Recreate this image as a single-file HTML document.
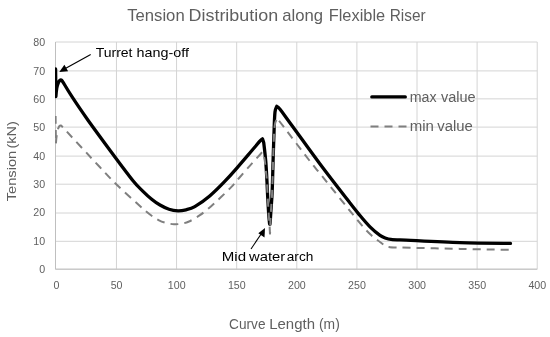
<!DOCTYPE html>
<html><head><meta charset="utf-8"><title>Tension Distribution along Flexible Riser</title>
<style>
html,body{margin:0;padding:0;background:#fff;}
body{width:550px;height:337px;overflow:hidden;font-family:"Liberation Sans",sans-serif;}
svg{display:block;}
svg text{font-family:"Liberation Sans",sans-serif;}
</style></head><body>
<svg width="550" height="337" viewBox="0 0 550 337">
<rect width="550" height="337" fill="#fff"/>
<defs><clipPath id="pa"><rect x="55.0" y="30" width="490" height="245"/></clipPath></defs>
<g stroke="#d4d4d4" stroke-width="1" fill="none"><line x1="55.50" y1="42.0" x2="55.50" y2="269.2"/><line x1="116.46" y1="42.0" x2="116.46" y2="269.2"/><line x1="176.57" y1="42.0" x2="176.57" y2="269.2"/><line x1="236.68" y1="42.0" x2="236.68" y2="269.2"/><line x1="296.79" y1="42.0" x2="296.79" y2="269.2"/><line x1="356.90" y1="42.0" x2="356.90" y2="269.2"/><line x1="417.01" y1="42.0" x2="417.01" y2="269.2"/><line x1="477.12" y1="42.0" x2="477.12" y2="269.2"/><line x1="537.23" y1="42.0" x2="537.23" y2="269.2"/><line x1="55.5" y1="269.20" x2="537.2" y2="269.20"/><line x1="55.5" y1="241.30" x2="537.2" y2="241.30"/><line x1="55.5" y1="213.00" x2="537.2" y2="213.00"/><line x1="55.5" y1="184.20" x2="537.2" y2="184.20"/><line x1="55.5" y1="156.10" x2="537.2" y2="156.10"/><line x1="55.5" y1="127.10" x2="537.2" y2="127.10"/><line x1="55.5" y1="98.85" x2="537.2" y2="98.85"/><line x1="55.5" y1="70.90" x2="537.2" y2="70.90"/><line x1="55.5" y1="42.00" x2="537.2" y2="42.00"/></g>
<g stroke="#bfbfbf" stroke-width="1" fill="none"><line x1="55.5" y1="42.0" x2="55.5" y2="269.2"/><line x1="55.5" y1="269.2" x2="537.23" y2="269.2"/></g>
<g font-size="16.2" fill="#5f5f5f"><text x="127.19" y="21.0" textLength="57.48" lengthAdjust="spacingAndGlyphs">Tension</text><text x="188.56" y="21.0" textLength="89.58" lengthAdjust="spacingAndGlyphs">Distribution</text><text x="282.28" y="21.0" textLength="40.79" lengthAdjust="spacingAndGlyphs">along</text><text x="328.69" y="21.0" textLength="56.45" lengthAdjust="spacingAndGlyphs">Flexible</text><text x="389.76" y="21.0" textLength="35.92" lengthAdjust="spacingAndGlyphs">Riser</text></g>
<g font-size="11" fill="#5f5f5f"><text x="45.2" y="272.8" text-anchor="end" textLength="5.93" lengthAdjust="spacingAndGlyphs">0</text><text x="45.2" y="244.5" text-anchor="end" textLength="11.86" lengthAdjust="spacingAndGlyphs">10</text><text x="45.2" y="216.2" text-anchor="end" textLength="11.86" lengthAdjust="spacingAndGlyphs">20</text><text x="45.2" y="187.9" text-anchor="end" textLength="11.86" lengthAdjust="spacingAndGlyphs">30</text><text x="45.2" y="159.6" text-anchor="end" textLength="11.86" lengthAdjust="spacingAndGlyphs">40</text><text x="45.2" y="131.3" text-anchor="end" textLength="11.86" lengthAdjust="spacingAndGlyphs">50</text><text x="45.2" y="102.9" text-anchor="end" textLength="11.86" lengthAdjust="spacingAndGlyphs">60</text><text x="45.2" y="74.6" text-anchor="end" textLength="11.86" lengthAdjust="spacingAndGlyphs">70</text><text x="45.2" y="46.3" text-anchor="end" textLength="11.86" lengthAdjust="spacingAndGlyphs">80</text><text x="56.5" y="289" text-anchor="middle" textLength="5.93" lengthAdjust="spacingAndGlyphs">0</text><text x="116.6" y="289" text-anchor="middle" textLength="11.86" lengthAdjust="spacingAndGlyphs">50</text><text x="176.7" y="289" text-anchor="middle" textLength="17.79" lengthAdjust="spacingAndGlyphs">100</text><text x="236.8" y="289" text-anchor="middle" textLength="17.79" lengthAdjust="spacingAndGlyphs">150</text><text x="296.9" y="289" text-anchor="middle" textLength="17.79" lengthAdjust="spacingAndGlyphs">200</text><text x="357.0" y="289" text-anchor="middle" textLength="17.79" lengthAdjust="spacingAndGlyphs">250</text><text x="417.1" y="289" text-anchor="middle" textLength="17.79" lengthAdjust="spacingAndGlyphs">300</text><text x="477.2" y="289" text-anchor="middle" textLength="17.79" lengthAdjust="spacingAndGlyphs">350</text><text x="537.3" y="289" text-anchor="middle" textLength="17.79" lengthAdjust="spacingAndGlyphs">400</text></g>
<g transform="translate(15.6,201) rotate(-90)" font-size="13.2" fill="#5f5f5f"><text x="-0.33" y="0.0" textLength="50.53" lengthAdjust="spacingAndGlyphs">Tension</text><text x="52.52" y="0.0" textLength="27.28" lengthAdjust="spacingAndGlyphs">(kN)</text></g>
<g font-size="14" fill="#5f5f5f"><text x="229.12" y="328.8" textLength="36.41" lengthAdjust="spacingAndGlyphs">Curve</text><text x="269.22" y="328.8" textLength="45.76" lengthAdjust="spacingAndGlyphs">Length</text><text x="319.01" y="328.8" textLength="20.77" lengthAdjust="spacingAndGlyphs">(m)</text></g>
<path d="M55.6,69.0 C55.6,73.6 55.9,91.9 55.9,96.5 C56.0,95.1 56.4,90.3 56.8,88.0 C57.2,85.7 57.8,84.0 58.3,82.8 C58.8,81.5 59.3,81.0 59.8,80.5 C60.3,80.0 60.8,79.8 61.3,80.0 C61.8,80.2 62.5,81.5 62.8,81.8 C64.3,84.2 67.6,90.0 71.8,96.4 C76.0,102.9 81.8,111.4 88.2,120.5 C94.7,129.6 103.1,141.0 110.5,151.0 C117.9,161.0 127.4,173.8 132.8,180.5 C138.2,187.2 139.8,188.1 143.0,191.3 C146.2,194.5 149.2,197.2 152.0,199.5 C154.8,201.8 157.2,203.4 160.0,205.0 C162.8,206.6 166.0,208.3 169.0,209.3 C172.0,210.3 175.2,210.8 178.0,210.9 C180.8,211.0 183.2,210.5 186.0,209.8 C188.8,209.1 190.9,208.9 194.8,206.6 C198.8,204.3 204.8,200.2 209.7,196.0 C214.6,191.8 220.1,186.3 224.5,181.7 C228.9,177.1 232.5,173.1 236.4,168.6 C240.3,164.1 244.2,159.5 248.2,154.9 C252.1,150.3 257.7,143.6 260.1,140.9 C262.5,138.2 262.1,139.2 262.5,138.8 C262.7,139.3 263.2,141.0 263.5,142.0 C263.8,143.0 263.6,141.7 264.0,145.0 C264.4,148.3 265.3,155.8 265.8,162.0 C266.3,168.2 266.7,176.2 267.0,182.0 C267.3,187.8 267.4,191.9 267.7,197.0 C268.0,202.1 268.3,208.3 268.6,212.6 C268.9,216.9 269.3,221.1 269.5,223.0 C269.7,224.9 269.8,224.1 269.8,224.3 C269.9,224.1 269.9,224.9 270.1,223.0 C270.3,221.1 270.5,216.9 270.8,212.6 C271.1,208.3 271.6,202.1 271.9,197.0 C272.2,191.9 272.3,188.2 272.5,182.0 C272.7,175.8 272.9,166.2 273.1,160.0 C273.3,153.8 273.4,150.5 273.6,145.0 C273.8,139.5 274.0,132.5 274.2,127.0 C274.4,121.5 274.6,115.5 275.0,112.0 C275.4,108.5 276.5,107.2 276.8,106.3 C277.3,106.8 277.3,105.8 280.0,109.3 C282.7,112.8 286.3,117.9 293.0,127.0 C299.7,136.1 310.5,151.3 320.0,164.0 C329.5,176.7 343.3,194.4 350.0,203.0 C356.7,211.6 356.7,211.5 360.0,215.5 C363.3,219.5 366.7,223.5 370.0,226.8 C373.3,230.1 377.3,233.4 380.0,235.3 C382.7,237.2 384.2,237.6 386.0,238.3 C387.8,239.0 388.7,239.2 391.0,239.4 C393.3,239.7 388.5,239.3 400.0,239.8 C411.5,240.3 441.6,242.0 460.0,242.6 C478.4,243.2 502.1,243.3 510.5,243.4" fill="none" stroke="#000" stroke-width="3.3" stroke-linejoin="round" stroke-linecap="round" clip-path="url(#pa)"/>
<path id="mina" d="M55.6,116.0 C55.6,120.6 55.9,139.0 55.9,143.6 C56.0,142.2 56.4,137.4 56.8,135.0 C57.1,132.6 57.5,130.5 58.0,129.0 C58.5,127.5 59.0,126.6 59.5,126.0 C60.0,125.4 60.5,125.3 61.0,125.5 C61.5,125.7 62.2,126.8 62.5,127.0 C68.8,133.7 91.0,157.7 100.0,167.3 C109.0,176.9 110.4,178.6 116.5,184.5 C122.6,190.4 131.0,197.9 136.4,202.8 C141.8,207.7 145.2,210.9 149.0,213.8 C152.8,216.7 156.0,218.7 159.0,220.3 C162.0,221.9 164.5,222.5 167.0,223.2 C169.5,223.8 171.7,224.1 174.0,224.2 C176.3,224.3 178.5,224.2 181.0,223.8 C183.5,223.4 185.8,222.9 189.0,221.5 C192.2,220.1 196.2,217.7 199.9,215.2 C203.6,212.7 207.4,209.4 210.9,206.4 C214.4,203.4 217.4,200.5 220.8,197.3 C224.2,194.1 228.2,190.2 231.2,187.1 C234.2,184.0 235.6,182.1 238.7,178.5 C241.8,174.9 246.2,169.8 250.0,165.6 C253.8,161.4 259.1,155.4 261.2,153.2 C263.3,151.0 262.2,152.4 262.4,152.2 C262.6,152.8 263.4,154.7 263.8,156.0 C264.2,157.3 264.3,157.3 264.7,160.0 C265.1,162.7 265.6,168.3 266.0,172.0 C266.4,175.7 266.7,177.8 267.0,182.0 C267.3,186.2 267.4,191.9 267.7,197.0 C268.0,202.1 268.3,207.8 268.6,212.6 C268.9,217.4 269.4,222.4 269.6,226.0 C269.8,229.6 269.9,232.9 270.0,234.3" fill="none" stroke="#7f7f7f" stroke-width="2" stroke-dasharray="8 6" stroke-dashoffset="0" stroke-linejoin="round" clip-path="url(#pa)"/>
<path id="minb" d="M270.0,234.3 C270.1,232.9 270.2,229.6 270.3,226.0 C270.4,222.4 270.5,217.4 270.8,212.6 C271.1,207.8 271.6,202.1 271.9,197.0 C272.2,191.9 272.3,188.2 272.5,182.0 C272.7,175.8 272.9,167.8 273.1,160.0 C273.4,152.2 273.7,141.0 274.0,135.0 C274.3,129.0 274.5,126.7 275.0,124.0 C275.5,121.3 276.7,119.8 277.0,119.0 C277.5,119.5 274.7,115.2 280.0,122.0 C285.3,128.8 302.0,151.0 309.0,160.0 C316.0,169.0 314.0,166.1 322.0,176.0 C330.0,185.9 349.0,209.8 357.0,219.5 C365.0,229.2 366.2,230.2 370.0,234.0 C373.8,237.8 377.5,240.1 380.0,242.0 C382.5,243.9 383.5,244.7 385.0,245.5 C386.5,246.3 386.5,246.7 389.0,247.0 C391.5,247.3 388.2,247.2 400.0,247.5 C411.8,247.8 441.8,248.5 460.0,248.9 C478.2,249.3 501.1,249.7 509.3,249.8" fill="none" stroke="#7f7f7f" stroke-width="2" stroke-dasharray="8 6" stroke-dashoffset="5.5" stroke-linejoin="round" clip-path="url(#pa)"/>
<line x1="371.8" y1="96.9" x2="405.3" y2="96.9" stroke="#000" stroke-width="3.3" stroke-linecap="round"/>
<line x1="370.5" y1="126.5" x2="406.5" y2="126.5" stroke="#7f7f7f" stroke-width="2" stroke-dasharray="8 6"/>
<g font-size="14" fill="#5f5f5f"><text x="409.79" y="101.6" textLength="26.86" lengthAdjust="spacingAndGlyphs">max</text><text x="440.90" y="101.6" textLength="34.70" lengthAdjust="spacingAndGlyphs">value</text><text x="409.74" y="130.5" textLength="24.19" lengthAdjust="spacingAndGlyphs">min</text><text x="437.29" y="130.5" textLength="35.62" lengthAdjust="spacingAndGlyphs">value</text></g>
<g font-size="13.2" fill="#000"><text x="95.68" y="56.6" textLength="36.84" lengthAdjust="spacingAndGlyphs">Turret</text><text x="136.62" y="56.6" textLength="52.38" lengthAdjust="spacingAndGlyphs">hang-off</text><text x="221.75" y="261.0" textLength="24.25" lengthAdjust="spacingAndGlyphs">Mid</text><text x="249.00" y="261.0" textLength="36.20" lengthAdjust="spacingAndGlyphs">water</text><text x="286.78" y="261.0" textLength="26.53" lengthAdjust="spacingAndGlyphs">arch</text></g>
<g stroke="#000" stroke-width="1.1" fill="#000">
<line x1="90.7" y1="54.6" x2="64" y2="69.3"/>
<polygon points="59.3,71.9 64.4,64.8 68.1,71.3" stroke="none"/>
<line x1="251" y1="249" x2="262.5" y2="232"/>
<polygon points="265,228 264.5,237.5 258.3,233.3" stroke="none"/>
</g>
</svg>
</body></html>
